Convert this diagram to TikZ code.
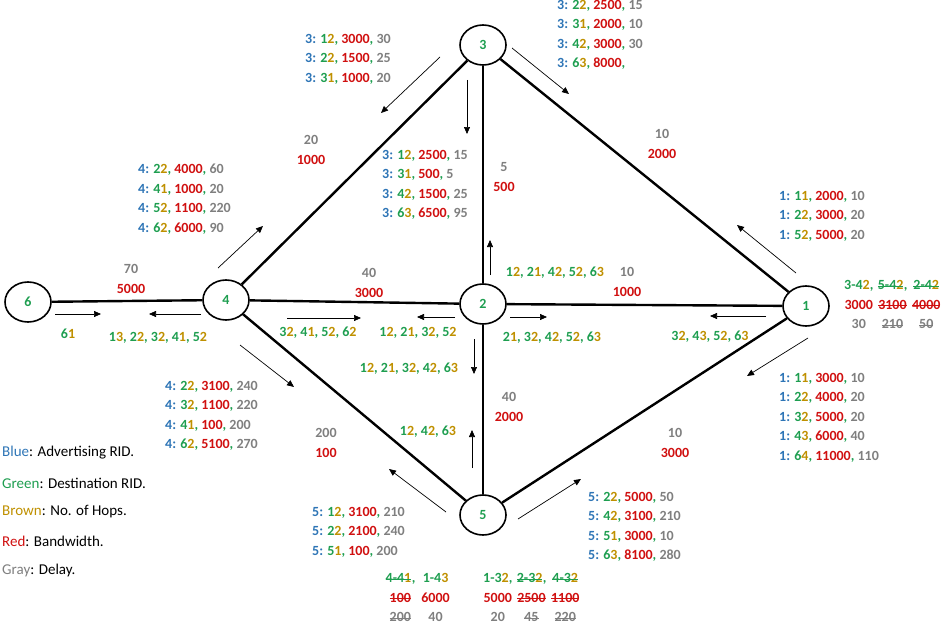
\documentclass[tikz,border=0pt]{standalone}
\usepackage{fontspec}
\setmainfont{Carlito}
\usetikzlibrary{arrows.meta,shapes.geometric}
\definecolor{cB}{HTML}{2E75B6}
\definecolor{cG}{HTML}{1E9E50}
\definecolor{cN}{HTML}{BF9000}
\definecolor{cR}{HTML}{D01010}
\definecolor{cY}{HTML}{7F7F7F}
\newcommand\Bl[1]{\textcolor{cB}{#1}}
\newcommand\Gr[1]{\textcolor{cG}{#1}}
\newcommand\Rd[1]{\textcolor{cR}{#1}}
\newcommand\Gy[1]{\textcolor{cY}{#1}}
\newcommand\pp[2]{\textcolor{cG}{#1}\textcolor{cN}{#2}}
\newcommand\en[5]{\Bl{#1:} \pp{#2}{#3}\Gr{,} \Rd{#4}\Gr{,} \Gy{#5}}
\newcommand\cm{\Gr{,} }
\newcommand\so[2]{\tikz[baseline=(sx.base)]{\node[inner sep=0pt,outer sep=0pt](sx){#2};\draw[#1,line width=1pt] (sx.mid west) -- (sx.mid east);}}
\tikzset{
 rnode/.style={draw,line width=1.6pt,ellipse,minimum width=46pt,minimum height=40pt,inner sep=0pt,font=\fontsize{14}{16}\selectfont\bfseries,text=cG},
 edge/.style={line width=2.4pt},
 flow/.style={-{Triangle[length=7pt,width=6pt]},line width=0.7pt},
 tbl/.style={anchor=north west,inner sep=0pt,align=left,font=\fontsize{14}{19.5}\selectfont\bfseries},
 lbl/.style={inner sep=0pt,align=center,font=\fontsize{14}{19.5}\selectfont\bfseries},
 leg/.style={anchor=west,inner sep=0pt,font=\fontsize{15}{17}\selectfont},
}
\begin{document}
\begin{tikzpicture}[x=1pt,y=-1pt]
\useasboundingbox (0,0) rectangle (945,626);
\node[rnode] (n3) at (483,45) {3};
\node[rnode] (n2) at (483,304) {2};
\node[rnode] (n1) at (806,306) {1};
\node[rnode] (n4) at (226,300) {4};
\node[rnode] (n6) at (28,302) {6};
\node[rnode] (n5) at (483,515) {5};
\draw[edge] (n6) -- (n4);
\draw[edge] (n4) -- (n3);
\draw[edge] (n4) -- (n2);
\draw[edge] (n4) -- (n5);
\draw[edge] (n3) -- (n2);
\draw[edge] (n3) -- (n1);
\draw[edge] (n2) -- (n1);
\draw[edge] (n2) -- (n5);
\draw[edge] (n5) -- (n1);
% flow arrows
\coordinate (a1s) at (440,57); \coordinate (a1e) at (381,113); \draw[flow] (a1s) -- (a1e);
\coordinate (a2s) at (467,80); \coordinate (a2e) at (467,134); \draw[flow] (a2s) -- (a2e);
\coordinate (a3s) at (512,48); \coordinate (a3e) at (569,94); \draw[flow] (a3s) -- (a3e);
\coordinate (a4s) at (490,275); \coordinate (a4e) at (490,240); \draw[flow] (a4s) -- (a4e);
\coordinate (a5s) at (455,317); \coordinate (a5e) at (417,317); \draw[flow] (a5s) -- (a5e);
\coordinate (a6s) at (287,318); \coordinate (a6e) at (361,318); \draw[flow] (a6s) -- (a6e);
\coordinate (a7s) at (510,317); \coordinate (a7e) at (547,317); \draw[flow] (a7s) -- (a7e);
\coordinate (a8s) at (766,316); \coordinate (a8e) at (710,316); \draw[flow] (a8s) -- (a8e);
\coordinate (a9s) at (474,339); \coordinate (a9e) at (474,374); \draw[flow] (a9s) -- (a9e);
\coordinate (b1s) at (472,468); \coordinate (b1e) at (472,430); \draw[flow] (b1s) -- (b1e);
\coordinate (b2s) at (240,345); \coordinate (b2e) at (294,387); \draw[flow] (b2s) -- (b2e);
\coordinate (b3s) at (446,512); \coordinate (b3e) at (389,469); \draw[flow] (b3s) -- (b3e);
\coordinate (b4s) at (518,519); \coordinate (b4e) at (581,479); \draw[flow] (b4s) -- (b4e);
\coordinate (b5s) at (808,338); \coordinate (b5e) at (747,376); \draw[flow] (b5s) -- (b5e);
\coordinate (b6s) at (796,273); \coordinate (b6e) at (737,225); \draw[flow] (b6s) -- (b6e);
\coordinate (b7s) at (218,268); \coordinate (b7e) at (263,226); \draw[flow] (b7s) -- (b7e);
\coordinate (b8s) at (55,314); \coordinate (b8e) at (101,314); \draw[flow] (b8s) -- (b8e);
\coordinate (b9s) at (201,314); \coordinate (b9e) at (149,314); \draw[flow] (b9s) -- (b9e);
% edge weights
\node[lbl] (w34) at (311,150) {\Gy{20}\\\Rd{1000}};
\node[lbl] (w31) at (662,144) {\Gy{10}\\\Rd{2000}};
\node[lbl] (w32) at (504,177) {\Gy{5}\\\Rd{500}};
\node[lbl] (w42) at (369,283) {\Gy{40}\\\Rd{3000}};
\node[lbl] (w21) at (627,282) {\Gy{10}\\\Rd{1000}};
\node[lbl] (w64) at (131,279) {\Gy{70}\\\Rd{5000}};
\node[lbl] (w25) at (509,407) {\Gy{40}\\\Rd{2000}};
\node[lbl] (w45) at (326,443) {\Gy{200}\\\Rd{100}};
\node[lbl] (w51) at (675,443) {\Gy{10}\\\Rd{3000}};
% tables
\node[tbl] (t3l) at (305,34) {\en{3}{1}{2}{3000}{30}\\\en{3}{2}{2}{1500}{25}\\\en{3}{3}{1}{1000}{20}};
\node[tbl] (t3r) at (557,0) {\en{3}{2}{2}{2500}{15}\\\en{3}{3}{1}{2000}{10}\\\en{3}{4}{2}{3000}{30}\\\en{3}{6}{3}{8000}{}};
\node[tbl] (t3m) at (382,150) {\en{3}{1}{2}{2500}{15}\\\en{3}{3}{1}{500}{5}\\\en{3}{4}{2}{1500}{25}\\\en{3}{6}{3}{6500}{95}};
\node[tbl] (t4t) at (138,164) {\en{4}{2}{2}{4000}{60}\\\en{4}{4}{1}{1000}{20}\\\en{4}{5}{2}{1100}{220}\\\en{4}{6}{2}{6000}{90}};
\node[tbl] (t1t) at (779,191) {\en{1}{1}{1}{2000}{10}\\\en{1}{2}{2}{3000}{20}\\\en{1}{5}{2}{5000}{20}};
\node[tbl] (t1b) at (779,373) {\en{1}{1}{1}{3000}{10}\\\en{1}{2}{2}{4000}{20}\\\en{1}{3}{2}{5000}{20}\\\en{1}{4}{3}{6000}{40}\\\en{1}{6}{4}{11000}{110}};
\node[tbl] (t4b) at (165,381) {\en{4}{2}{2}{3100}{240}\\\en{4}{3}{2}{1100}{220}\\\en{4}{4}{1}{100}{200}\\\en{4}{6}{2}{5100}{270}};
\node[tbl] (t5l) at (312,507) {\en{5}{1}{2}{3100}{210}\\\en{5}{2}{2}{2100}{240}\\\en{5}{5}{1}{100}{200}};
\node[tbl] (t5r) at (588,492) {\en{5}{2}{2}{5000}{50}\\\en{5}{4}{2}{3100}{210}\\\en{5}{5}{1}{3000}{10}\\\en{5}{6}{3}{8100}{280}};
% strike tables
\node[tbl] (s1) at (844,276) {\begin{tabular}{@{}c@{\hspace{4pt}}c@{\hspace{4pt}}c@{}}
 \pp{3-4}{2}\Gr{,} & \so{cG}{\pp{5-4}{2}}\Gr{,} & \so{cG}{\pp{2-4}{2}}\\
 \Rd{3000} & \so{cR}{\Rd{3100}} & \so{cR}{\Rd{4000}}\\
 \Gy{30} & \so{cY}{\Gy{210}} & \so{cY}{\Gy{50}}
\end{tabular}};
\node[tbl] (s5a) at (385,569) {\begin{tabular}{@{}c@{\hspace{6pt}}c@{}}
 \so{cG}{\pp{4-4}{1}}\Gr{,} & \pp{1-4}{3}\\
 \so{cR}{\Rd{100}} & \Rd{6000}\\
 \so{cY}{\Gy{200}} & \Gy{40}
\end{tabular}};
\node[tbl] (s5b) at (483,569) {\begin{tabular}{@{}c@{\hspace{4pt}}c@{\hspace{4pt}}c@{}}
 \pp{1-3}{2}\Gr{,} & \so{cG}{\pp{2-3}{2}}\Gr{,} & \so{cG}{\pp{4-3}{2}}\\
 \Rd{5000} & \so{cR}{\Rd{2500}} & \so{cR}{\Rd{1100}}\\
 \Gy{20} & \so{cY}{\Gy{45}} & \so{cY}{\Gy{220}}
\end{tabular}};
% destination lists
\node[lbl] (d61) at (68,334) {\pp61};
\node[lbl] (d4l) at (158,338) {\pp13\cm\pp22\cm\pp32\cm\pp41\cm\pp52};
\node[lbl] (d42) at (318,333) {\pp32\cm\pp41\cm\pp52\cm\pp62};
\node[lbl] (d24) at (418,333) {\pp12\cm\pp21\cm\pp32\cm\pp52};
\node[lbl] (d23) at (555,273) {\pp12\cm\pp21\cm\pp42\cm\pp52\cm\pp63};
\node[lbl] (d21) at (552,338) {\pp21\cm\pp32\cm\pp42\cm\pp52\cm\pp63};
\node[lbl] (d12) at (710,337) {\pp32\cm\pp43\cm\pp52\cm\pp63};
\node[lbl] (d25) at (409,369) {\pp12\cm\pp21\cm\pp32\cm\pp42\cm\pp63};
\node[lbl] (d52) at (428,432) {\pp12\cm\pp42\cm\pp63};
% legend
\node[leg] (l1) at (2,453) {\textcolor{cB}{Blue}: Advertising RID.};
\node[leg] (l2) at (2,483) {\textcolor{cG}{Green}: Destination RID.};
\node[leg] (l3) at (2,512) {\textcolor{cN}{Brown}: No. of Hops.};
\node[leg] (l4) at (2,541) {\textcolor{cR}{Red}: Bandwidth.};
\node[leg] (l5) at (2,570) {\textcolor{cY}{Gray}: Delay.};
\end{tikzpicture}
\end{document}
